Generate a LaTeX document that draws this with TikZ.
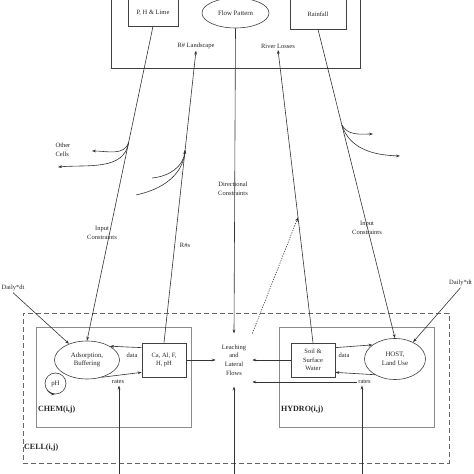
\documentclass[tikz,border=0pt]{standalone}
\usepackage{fontspec}
\setmainfont{Liberation Serif}
\usetikzlibrary{shapes.geometric,arrows.meta}
\begin{document}
\begin{tikzpicture}[x=1pt,y=1pt,
  txt/.style={font=\fontsize{6.5}{8.7}\selectfont, text=black!85, align=center, inner sep=1.5pt},
  lbl/.style={font=\bfseries\fontsize{8}{9}\selectfont, text=black!85, anchor=west, inner sep=0pt},
  rbox/.style={draw=black!75, line width=0.6pt, inner sep=0pt, align=center, text=black!85, font=\fontsize{6.5}{8.7}\selectfont},
  ell/.style={ellipse, draw=black!75, line width=0.6pt, inner sep=0pt, align=center, text=black!85, font=\fontsize{6.8}{8.7}\selectfont},
  grp/.style={draw=black!45, line width=0.7pt, inner sep=0pt},
  cellbox/.style={draw=black!60, dash pattern=on 5pt off 3pt, line width=0.7pt, inner sep=0pt},
  ln/.style={draw=black!80, line width=0.6pt},
  arr/.style={ln, -{Stealth[length=4pt,width=2.8pt]}},
  dotln/.style={dash pattern=on 1.2pt off 1.3pt},
]
\useasboundingbox (0,0) rectangle (474,474);
\clip (0,0) rectangle (474,474);

% top landscape box
\node[rbox, minimum width=249pt, minimum height=73pt] (top) at (235.5,442.5) {};
\node[rbox, minimum width=50pt, minimum height=27pt] (phlime) at (153,461.5) {P, H \& Lime};
\node[ell, minimum width=67pt, minimum height=30pt, fill=white] (flow) at (235.5,461) {Flow Pattern};
\node[rbox, minimum width=56pt, minimum height=30pt] (rain) at (318,460) {Rainfall};
\node[txt] (rland) at (196,428) {R\# Landscape};
\node[txt] (river) at (278,428) {River Losses};

% cell
\node[cellbox, minimum width=426pt, minimum height=150pt] (cell) at (236,86) {};
\node[grp, minimum width=155pt, minimum height=100pt] (chem) at (113.5,97) {};
\node[grp, minimum width=155pt, minimum height=100pt] (hydro) at (356.5,97) {};
\node[lbl] (chemlbl) at (38,64) {CHEM(i,j)};
\node[lbl] (hydrolbl) at (281,64) {HYDRO(i,j)};
\node[lbl] (celllbl) at (24,26) {CELL(i,j)};

\node[ell, minimum width=65pt, minimum height=38pt] (ads) at (87,114) {Adsorption,\\Buffering};
\node[rbox, minimum width=44pt, minimum height=34pt] (ca) at (164,114) {Ca, Al, F,\\H, pH};
\node[circle, draw=black!75, line width=0.6pt, minimum size=21pt, inner sep=0pt, text=black!85, font=\fontsize{6.8}{8}\selectfont] (ph) at (55.5,90.5) {pH};
\node[txt, inner xsep=6pt, inner ysep=11pt] (leach) at (234,114) {Leaching\\and\\Lateral\\Flows};
\node[rbox, minimum width=44pt, minimum height=34pt] (soil) at (313,114) {Soil \&\\Surface\\Water};
\node[ell, minimum width=61pt, minimum height=41pt] (host) at (395,115) {HOST,\\Land Use};

\node[txt] (cdata) at (132,119) {data};
\node[txt] (crates) at (118,92) {rates};
\node[txt] (hdata) at (344,119) {data};
\node[txt] (hrates) at (364.5,92) {rates};

\node[txt] (dailyL) at (13,186) {Daily*dt};
\node[txt] (dailyR) at (460.5,191) {Daily*dt};
\node[txt, align=left] (other) at (63,324) {Other\\Cells};
\node[txt] (inL) at (102,241) {Input\\Constraints};
\node[txt] (inR) at (367,246) {Input\\Constraints};
\node[txt] (dir) at (233,285) {Directional\\Constraints};
\node[txt] (rs) at (185,229) {R\#s};

% long connectors
\draw[arr] (phlime.south) -- (ads.north);
\path (phlime.south) -- (ads.north) coordinate[pos=0.368] (oc);
\coordinate (oc1) at (92,323);
\coordinate (oc2) at (58,307);
\draw[arr] (oc) to[out=255,in=0] (oc1);
\draw[arr] (oc) to[out=262,in=5] (oc2);

\draw[arr] (ca.north) -- (rland.south);
\path (ca.north) -- (rland.south) coordinate[pos=0.66] (m2);
\coordinate (ic1) at (152,296);
\coordinate (ic2) at (136,279);
\draw[arr] (ic1) to[out=5,in=-96] (m2);
\draw[arr] (ic2) to[out=12,in=-96] (m2);

\draw[arr] (flow.south) -- (leach.north);

\draw[arr] (soil.north) -- (river.south);
\path (soil.north) -- (river.south) coordinate[pos=0.428] (m5);
\draw[arr, dotln] (leach.north east) -- (m5);

\draw[arr] (rain.south) -- (host.north);
\path (rain.south) -- (host.north) coordinate[pos=0.31] (m6);
\coordinate (oc3) at (373,340);
\coordinate (oc4) at (400,318);
\draw[arr] (m6) to[out=-60,in=180] (oc3);
\draw[arr] (m6) to[out=-72,in=178] (oc4);

\draw[arr] (dailyL.south) -- (ads.138);
\draw[arr] (dailyR.south) -- (host.43);

% inner connectors
\draw[arr] (ca.151) -- (ads.31);
\draw[arr] (ads.-50) -- (ca.209);
\draw[arr] (soil.29) -- (host.148);
\draw[arr] (host.218) -- (soil.-29);
\draw[arr] (ca.east) -- (leach.west);
\draw[arr] (soil.west) -- (leach.east);
\draw[arr] (hrates.west) -- (leach.east |- hrates.west);
\draw[arr] (ph.220) arc[start angle=220, end angle=268, radius=10.5];

% inputs from below
\coordinate (b1) at (119,-5);
\coordinate (b2) at (234,-5);
\coordinate (b3) at (362,-5);
\draw[arr] (b1) -- (b1 |- crates.south);
\draw[arr] (b2) -- (leach.south);
\draw[arr] (b3) -- (b3 |- hrates.south);
\end{tikzpicture}
\end{document}
